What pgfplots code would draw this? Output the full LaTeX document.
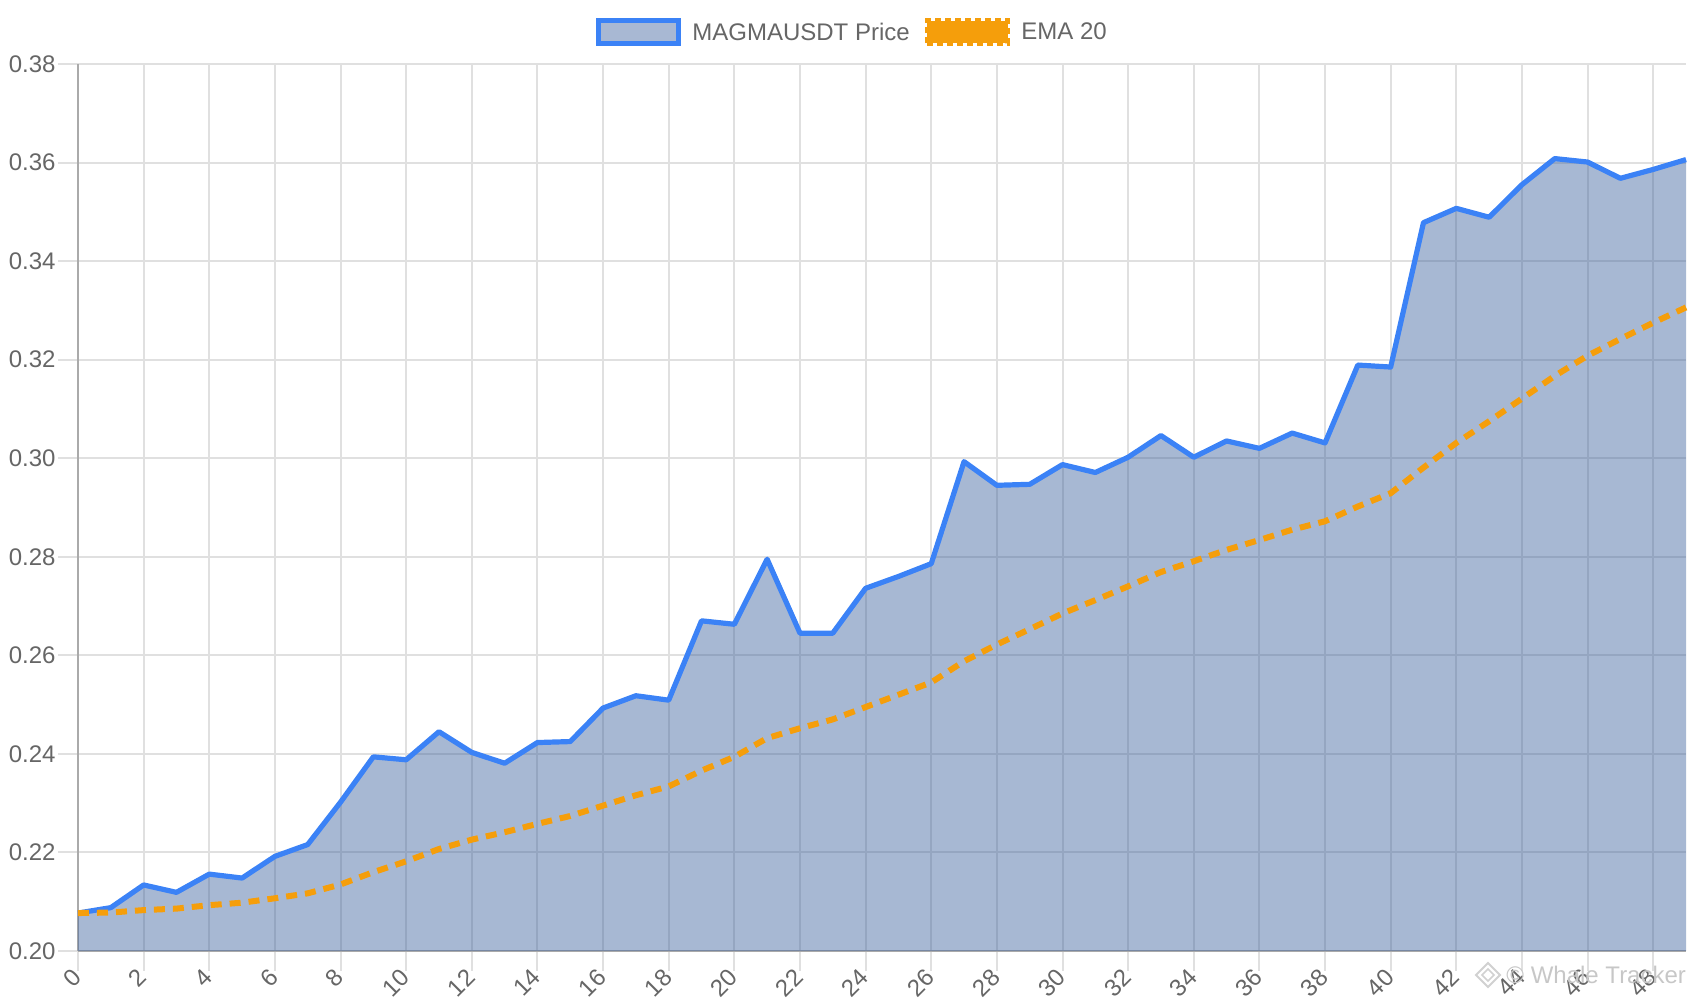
\documentclass[border=0pt]{standalone}
\usepackage{pgfplots}
\pgfplotsset{compat=1.18}
\usepackage{pgfplotstable}
\usepackage{fontspec}
\setmainfont{Liberation Sans}
\definecolor{lineblue}{HTML}{3B82F6}
\definecolor{fillblue}{RGB}{52,91,153}
\definecolor{emaorange}{HTML}{F59E0B}
\definecolor{gridgray}{HTML}{E0E0E0}
\definecolor{axisgray}{HTML}{AAAAAA}
\definecolor{textgray}{HTML}{666666}

\pgfplotstableread{
x price ema
0 0.2077 0.2077
1 0.2088 0.2078
2 0.2134 0.2083
3 0.2119 0.2086
4 0.2156 0.2093
5 0.2148 0.2098
6 0.2192 0.2107
7 0.2216 0.2117
8 0.2302 0.2135
9 0.2394 0.2160
10 0.2388 0.2182
11 0.2445 0.2207
12 0.2403 0.2226
13 0.2381 0.2241
14 0.2423 0.2258
15 0.2425 0.2274
16 0.2493 0.2295
17 0.2518 0.2316
18 0.2509 0.2334
19 0.2670 0.2366
20 0.2663 0.2394
21 0.2795 0.2432
22 0.2645 0.2452
23 0.2645 0.2470
24 0.2736 0.2495
25 0.2760 0.2520
26 0.2786 0.2545
27 0.2993 0.2588
28 0.2945 0.2622
29 0.2947 0.2653
30 0.2987 0.2685
31 0.2971 0.2712
32 0.3002 0.2740
33 0.3046 0.2769
34 0.3002 0.2791
35 0.3035 0.2814
36 0.3020 0.2834
37 0.3051 0.2855
38 0.3031 0.2872
39 0.3189 0.2902
40 0.3185 0.2929
41 0.3478 0.2981
42 0.3507 0.3031
43 0.3489 0.3075
44 0.3555 0.3121
45 0.3608 0.3167
46 0.3601 0.3208
47 0.3568 0.3242
48 0.3586 0.3275
49 0.3606 0.3306
}\datatable

\begin{document}
\fontsize{12}{14}\selectfont
\begin{tikzpicture}
\path[use as bounding box] (0,0) rectangle (850pt,500pt);
\begin{axis}[
  at={(39pt,24.5pt)}, anchor=south west,
  scale only axis,
  width=804pt, height=443.5pt,
  xmin=0, xmax=49, ymin=0.20, ymax=0.38,
  xtick={0,2,...,48},
  ytick={0.20,0.22,...,0.381},
  yticklabel style={/pgf/number format/fixed, /pgf/number format/fixed zerofill, /pgf/number format/precision=2},
  /pgf/number format/assume math mode=true,
  grid=major,
  major grid style={gridgray, line width=1pt},
  tick align=outside,
  major tick length=10pt,
  tick style={gridgray, line width=1pt},
  axis x line*=bottom, axis y line*=left,
  x axis line style={axisgray, line width=1pt},
  y axis line style={axisgray, line width=1pt},
  ticklabel style={font=\fontsize{12}{14}\selectfont, text=textgray},
  xticklabel style={rotate=45, anchor=north east, inner sep=1pt, xshift=0pt, yshift=5pt},
  yticklabel style={inner sep=1pt},
  clip=false,
]
\addplot[draw=none, fill=fillblue, fill opacity=0.43] table[x=x, y=price] {\datatable} \closedcycle;
\addplot[lineblue, line width=2.6pt, line join=round] table[x=x, y=price] {\datatable};
\addplot[emaorange, line width=3pt, dash pattern=on 5.5pt off 4pt] table[x=x, y=ema] {\datatable};
\end{axis}
% legend
\draw[lineblue, line width=2.4pt, fill=fillblue!43!white] (299.2pt,478.4pt) rectangle (339.3pt,489.6pt);
\node[anchor=west, inner sep=0pt, text=textgray] at (346pt,484.2pt) {MAGMAUSDT Price};
\draw[emaorange, line width=2.4pt, fill=emaorange, dash pattern=on 3pt off 2pt] (463.7pt,478.4pt) rectangle (503.8pt,489.6pt);
\node[anchor=west, inner sep=0pt, text=textgray] at (510.5pt,484.2pt) {EMA 20};
% watermark
\node[anchor=west, inner sep=0pt, text=black!22] at (753pt,12.5pt) {\textcopyright{} Whale Tracker};
\draw[black!18, line width=1pt] (738pt,12.5pt) -- (744pt,18.5pt) -- (750pt,12.5pt) -- (744pt,6.5pt) -- cycle;
\draw[black!18, line width=0.8pt] (741pt,12.5pt) -- (744pt,15.5pt) -- (747pt,12.5pt) -- (744pt,9.5pt) -- cycle;
\end{tikzpicture}
\end{document}
